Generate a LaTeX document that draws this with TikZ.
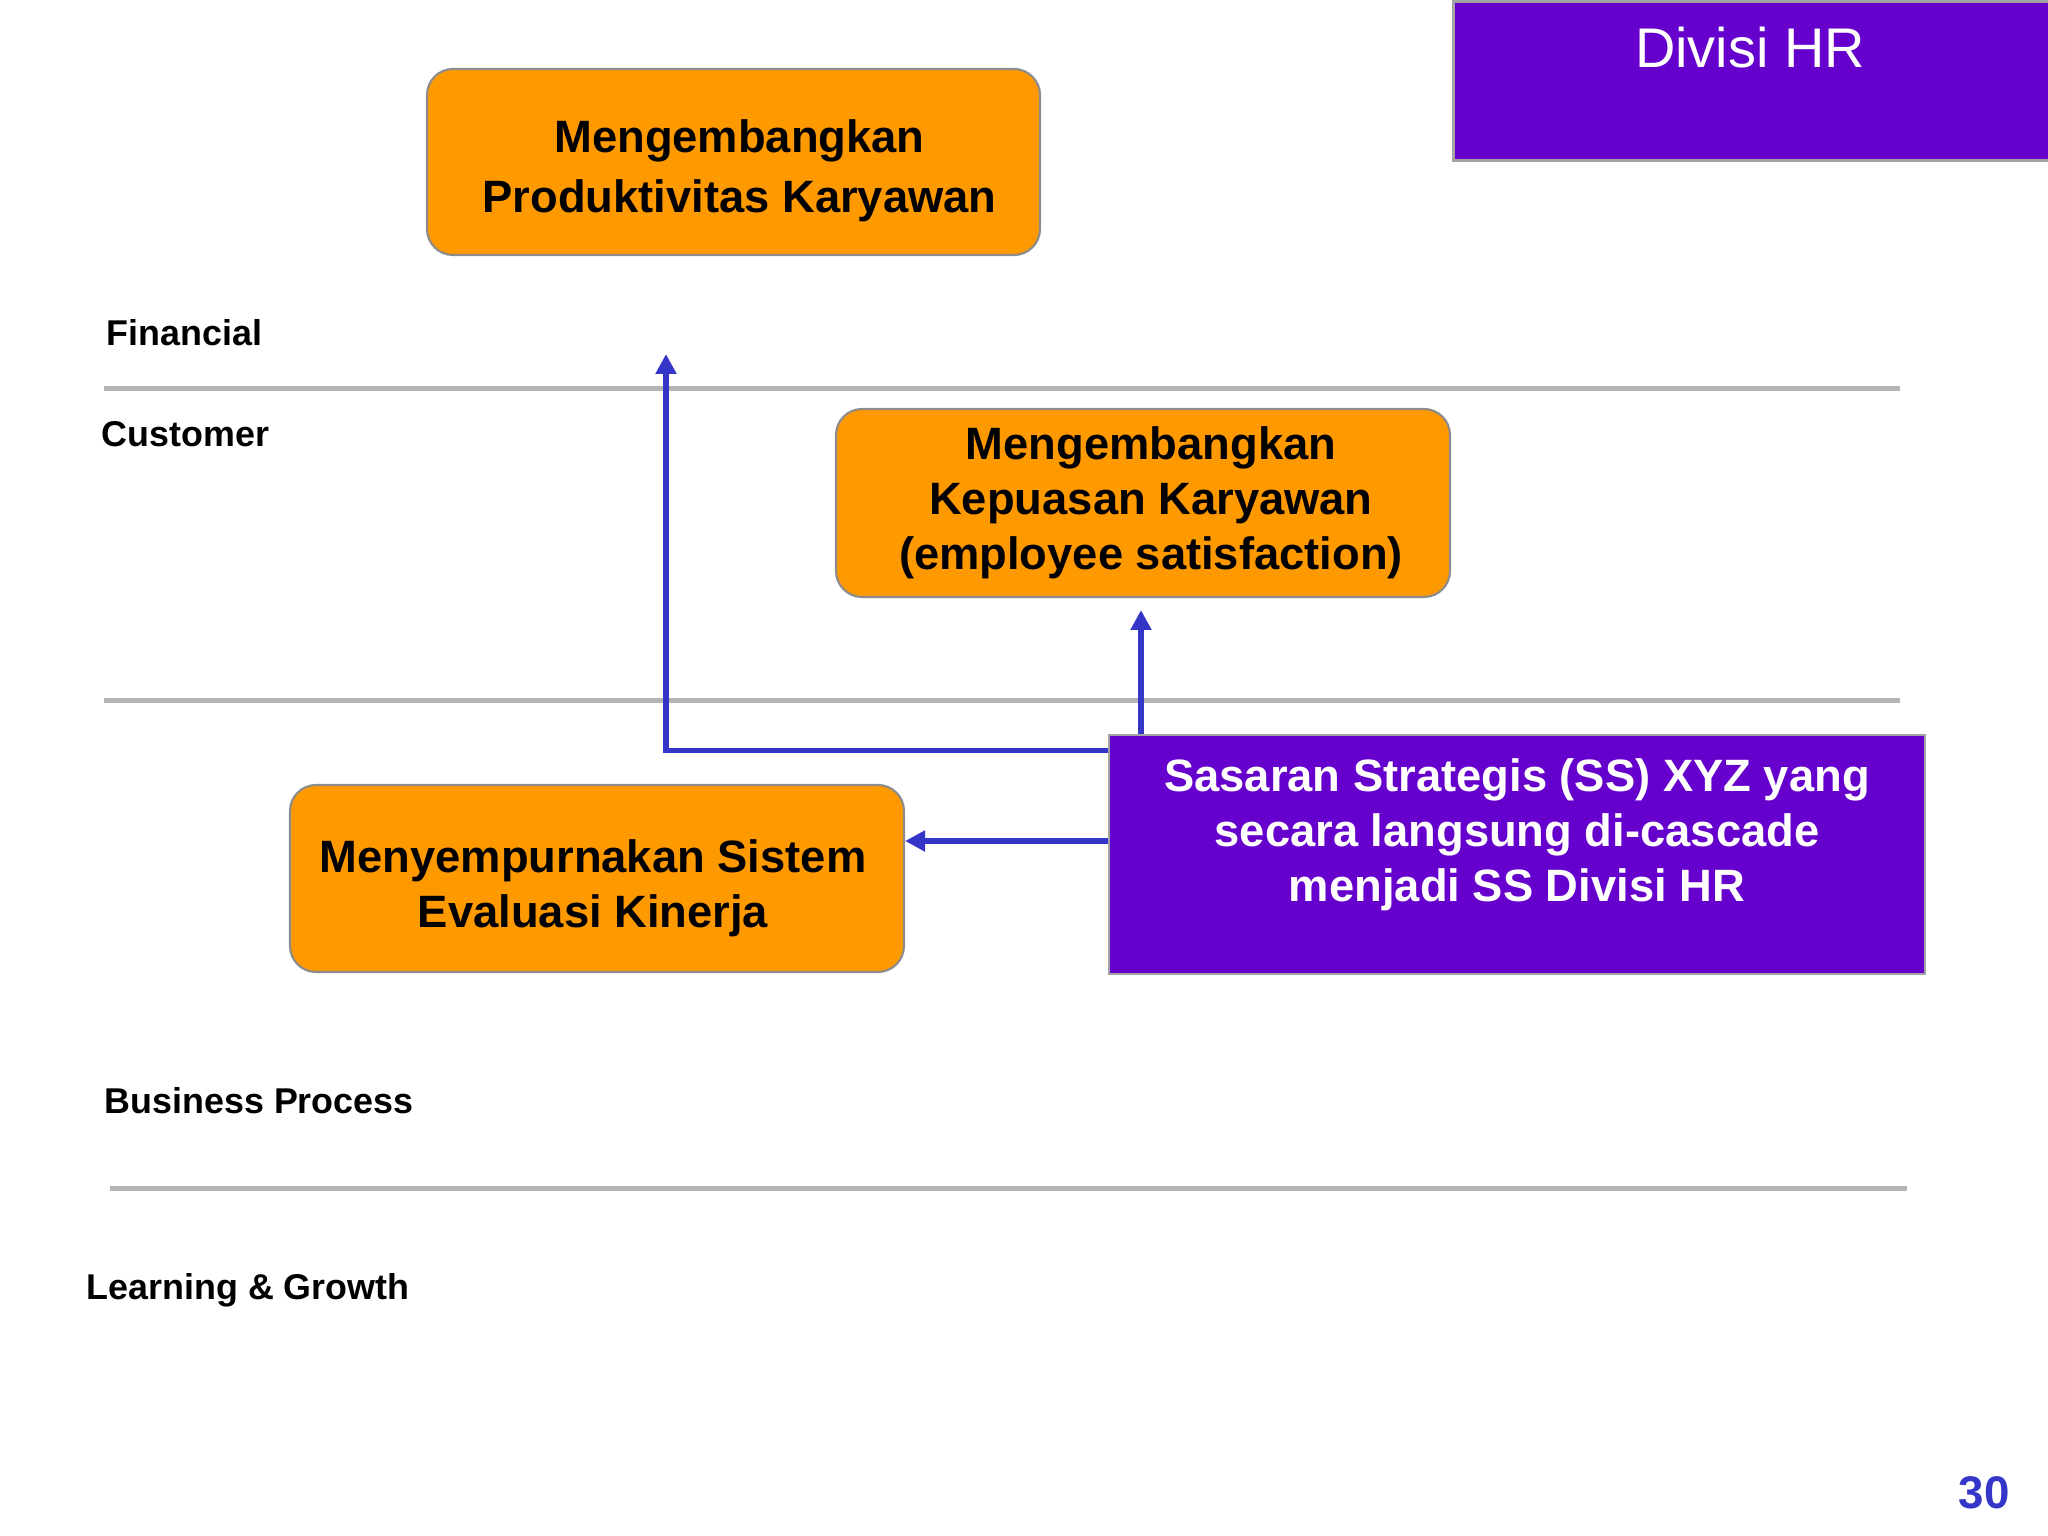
\documentclass[tikz,border=0pt]{standalone}
\usepackage{fontspec}
\setmainfont{Liberation Sans}
\usepackage{xcolor}
\definecolor{goalorange}{HTML}{FF9900}
\definecolor{hrpurple}{HTML}{6600CC}
\definecolor{arrowblue}{HTML}{3535C8}
\definecolor{rulegray}{HTML}{B4B4B4}
\definecolor{edgegray}{HTML}{8C8C8C}
\usetikzlibrary{positioning,arrows.meta,calc}

\begin{document}
\begin{tikzpicture}[
    goalbox/.style={draw=edgegray, line width=0.6pt, fill=goalorange, rounded corners=0.26cm,
      minimum width=6.14cm, minimum height=1.87cm, inner sep=0pt},
    goaltext/.style={align=center, inner sep=0pt, font=\fontsize{12.9}{15.6}\selectfont\bfseries},
    ssbox/.style={draw=edgegray!80, line width=0.8pt, fill=hrpurple,
      minimum width=8.16cm, minimum height=2.39cm, inner sep=0pt},
    perspective/.style={anchor=base west, inner sep=0pt, font=\fontsize{10.2}{12}\selectfont\bfseries},
    divider/.style={rulegray, line width=0.05cm},
    cascade/.style={arrowblue, line width=0.052cm, -{Triangle[length=0.2cm, width=0.2cm]}}
  ]
    \useasboundingbox (0,0) rectangle (20.48,-15.36);
    % title tab
    \node[ssbox, anchor=north west, minimum width=5.96cm, minimum height=1.59cm] (hrtab) at (14.52,0) {};
    \node[anchor=base, inner sep=0pt, text=white, font=\fontsize{15.9}{19}\selectfont] (hrtitle) at (17.5,-0.68) {Divisi HR};
    % perspective rows
    \draw[divider] (1.04,-3.89) -- (19.00,-3.89);
    \draw[divider] (1.04,-7.01) -- (19.00,-7.01);
    \draw[divider] (1.10,-11.88) -- (19.07,-11.88);
    \node[perspective] (financial) at (1.06,-3.46) {Financial};
    \node[perspective] (customer) at (1.01,-4.47) {Customer};
    \node[perspective] (process) at (1.04,-11.13) {Business Process};
    \node[perspective] (growth) at (0.86,-12.99) {Learning \& Growth};
    % objectives
    \node[goalbox, minimum width=6.13cm, minimum height=1.86cm] (produktivitas) at (7.335,-1.62) {};
    \node[goaltext, font=\fontsize{12.9}{17}\selectfont\bfseries] (produktivitas-text)
      at ($(produktivitas)+(0.06,-0.09)$) {Mengembangkan\\Produktivitas Karyawan};
    \node[goalbox, minimum height=1.88cm] (kepuasan) at (11.43,-5.03) {};
    \node[goaltext] (kepuasan-text) at ($(kepuasan)+(0.08,0)$)
      {Mengembangkan\\Kepuasan Karyawan\\(employee satisfaction)};
    \node[goalbox] (evaluasi) at (5.97,-8.785) {};
    \node[goaltext] (evaluasi-text) at ($(evaluasi)+(-0.04,-0.1)$) {Menyempurnakan Sistem\\Evaluasi Kinerja};
    \node[ssbox] (ss) at (15.17,-8.545) {};
    \node[goaltext, text=white] (ss-text) at ($(ss)+(0,0.2)$)
      {Sasaran Strategis (SS) XYZ yang\\secara langsung di-cascade\\menjadi SS Divisi HR};
    % cascade arrows
    \coordinate (fintip) at (6.66,-3.54);
    \coordinate (custtip) at (11.41,-6.10);
    \coordinate (ssleft) at ($(ss.west)+(0,0.135)$);
    \draw[cascade] ($(ss.north west)+(0,-0.17)$) -| (fintip);
    \draw[cascade] (custtip |- ss.north) -- (custtip);
    \draw[cascade] (ssleft) -- (evaluasi.east |- ssleft);
    % page number
    \node[anchor=base, inner sep=0pt, text=arrowblue, font=\fontsize{13}{15}\selectfont\bfseries] (pagenum) at (19.84,-15.08) {30};
  \end{tikzpicture}
\end{document}
